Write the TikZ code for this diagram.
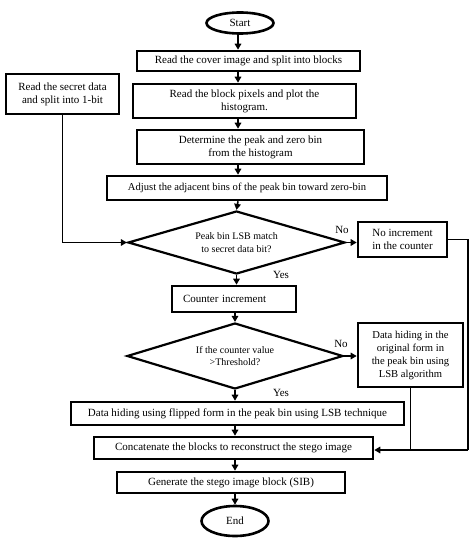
\documentclass[tikz,border=0pt]{standalone}
\usepackage{fontspec}
\setmainfont{Liberation Serif}
\usetikzlibrary{shapes.geometric,arrows.meta,calc}
\begin{document}
\begin{tikzpicture}[x=1pt,y=-1pt,
  box/.style={draw,line width=2.6pt,inner sep=0pt,align=center,font=\fontsize{11}{13}\selectfont},
  term/.style={draw,ellipse,line width=2.6pt,inner sep=0pt,font=\fontsize{11}{13}\selectfont},
  dec/.style={draw,diamond,aspect=3.4,line width=2.2pt,inner sep=0pt,align=center,font=\fontsize{10}{12.5}\selectfont},
  arr/.style={line width=1.6pt,-{Triangle[length=6pt,width=6.5pt]}},
  ln/.style={line width=1.6pt},
  lbl/.style={inner sep=0pt,font=\fontsize{11}{13}\selectfont}]
\useasboundingbox (0,0) rectangle (474,540);
\fill[white] (0,0) rectangle (474,540);
\node[term,minimum width=67,minimum height=21] (start) at (240,23) {Start};
\node[box,minimum width=223,minimum height=20] (b1) at (248.5,61) {Read the cover image and split into blocks};
\node[box,minimum width=223,minimum height=34] (b2) at (244.5,101) {Read the block pixels and plot the\\histogram.};
\node[box,minimum width=113,minimum height=40] (sec) at (62.5,94) {Read the secret data\\and split into 1-bit};
\node[box,minimum width=227,minimum height=34] (b3) at (250.5,147) {Determine the peak and zero bin\\from the histogram};
\node[box,minimum width=280,minimum height=24,font=\fontsize{10.6}{13}\selectfont] (b4) at (247,188) {Adjust the adjacent bins of the peak bin toward zero-bin};
\node[dec,minimum width=217,minimum height=63] (d1) at (236.5,242.5) {Peak bin LSB match\\to secret data bit?};
\node[box,minimum width=89,minimum height=35] (noinc) at (402.5,239.5) {No increment\\in the counter};
\node[box,minimum width=124,minimum height=26,text width=102,align=left] (ci) at (234,299) {Counter increment};
\node[dec,minimum width=216,minimum height=66] (d2) at (235,356) {If the counter value\\>Threshold?};
\node[box,minimum width=105,minimum height=64,font=\fontsize{10.6}{13}\selectfont] (dho) at (410.5,355) {Data hiding in the\\original form in\\the peak bin using\\LSB algorithm};
\node[box,minimum width=333,minimum height=23] (flip) at (237.5,413.5) {Data hiding using flipped form in the peak bin using LSB technique};
\node[box,minimum width=279,minimum height=22] (cc) at (233.5,448) {Concatenate the blocks to reconstruct the stego image};
\node[box,minimum width=228,minimum height=21] (gen) at (231,482.5) {Generate the stego image block (SIB)};
\node[term,minimum width=67,minimum height=30] (end) at (235,521) {End};
\node[lbl] (no1) at (342,230) {No};
\node[lbl] (yes1) at (281,275) {Yes};
\node[lbl] (no2) at (341,344) {No};
\node[lbl] (yes2) at (281,393) {Yes};
\coordinate (ax) at (238,0);
\coordinate (rc) at (468,0);
\draw[arr] (start.south -| ax) -- (b1.north -| ax);
\draw[arr] (b1.south -| ax) -- (b2.north -| ax);
\draw[arr] (b2.south -| ax) -- (b3.north -| ax);
\draw[arr] (b3.south -| ax) -- (b4.north -| ax);
\draw[arr] (b4.south -| ax) -- (d1.north);
\draw[arr] (sec.south) |- (d1.west);
\draw[arr] (d1.east) -- (noinc.west |- d1.east);
\draw[arr] (d1.south) -- (ci.north -| d1.south);
\draw[arr] (ci.south -| d2.north) -- (d2.north);
\draw[arr] (d2.east) -- (dho.west |- d2.east);
\draw[arr] (d2.south) -- (flip.north -| d2.south);
\draw[arr] (flip.south -| d2.south) -- (cc.north -| d2.south);
\draw[arr] (cc.south -| d2.south) -- (gen.north -| d2.south);
\draw[arr] (gen.south -| d2.south) -- (end.north -| d2.south);
\draw[ln] (noinc.east) -- (noinc.east -| rc) -- (rc |- 0,450) coordinate (rb);
\draw[arr] (rb) -- (cc.east |- rb);
\draw[ln] (dho.south) -- (dho.south |- rb);
\end{tikzpicture}
\end{document}
